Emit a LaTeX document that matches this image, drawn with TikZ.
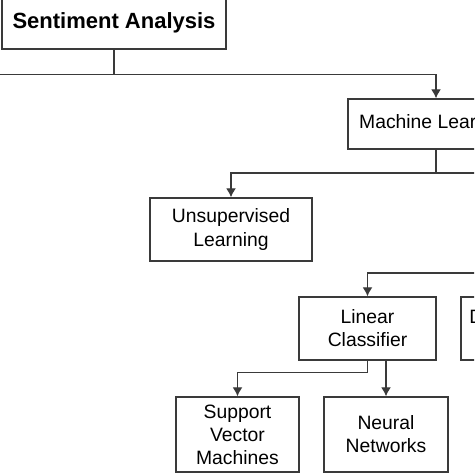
\documentclass[tikz,border=0pt]{standalone}
\usepackage{fontspec}
\setmainfont{Liberation Sans}
\usepackage{xcolor}
\usetikzlibrary{arrows.meta}
\definecolor{saLine}{HTML}{3A3A3A}

\begin{document}
\begin{tikzpicture}[
  x=0.75pt,y=-0.75pt,
  font=\fontsize{14.5}{17.3}\selectfont,
  box/.style={draw=saLine,line width=1.1pt,inner sep=0pt,align=center,fill=white},
  arr/.style={-{Latex[length=6.75pt,width=7.5pt]},draw=saLine,line width=0.95pt},
  lnk/.style={draw=saLine,line width=0.95pt}
]
\clip (0,0) rectangle (474,474);
\fill[white] (0,0) rectangle (474,474);
\node[box,minimum width=168pt,minimum height=39pt,font=\bfseries\fontsize{16.5}{19}\selectfont] (sa) at (114,23) {Sentiment Analysis};
\node[box,minimum width=132pt,minimum height=37.5pt] (ml) at (436,124) {Machine Learning};
\node[box,minimum width=121.5pt,minimum height=47.25pt] (ul) at (231,229.5) {Unsupervised\\Learning};
\node[box,minimum width=102.75pt,minimum height=47.25pt] (lc) at (367.5,328.5) {Linear\\Classifier};
\node[box,minimum width=68.25pt,minimum height=47.25pt] (dt) at (506.5,328.5) {Decision\\Tree};
\node[box,minimum width=92.25pt,minimum height=56.25pt] (svm) at (237.5,434.5) {Support\\Vector\\Machines};
\node[box,minimum width=93pt,minimum height=56.25pt] (nn) at (386,434.5) {Neural\\Networks};
% branches that run on outside the crop
\coordinate (offL) at (-10,74);
\coordinate (offR1) at (490,173);
\coordinate (offR2) at (490,273);
\draw[lnk] (sa.south) -- ++(0,25) coordinate (j1);
\draw[lnk] (j1) -- (offL |- j1);
\draw[arr] (j1) -| (ml.north);
\draw[lnk] (ml.south) -- ++(0,24);
\draw[arr] (offR1) -| (ul.north);
\draw[arr] (offR2) -| (lc.north);
\draw[arr] (lc.south) -- ++(0,12) -| (svm.north);
\draw[arr] (nn.north |- lc.south) -- (nn.north);
\end{tikzpicture}
\end{document}
